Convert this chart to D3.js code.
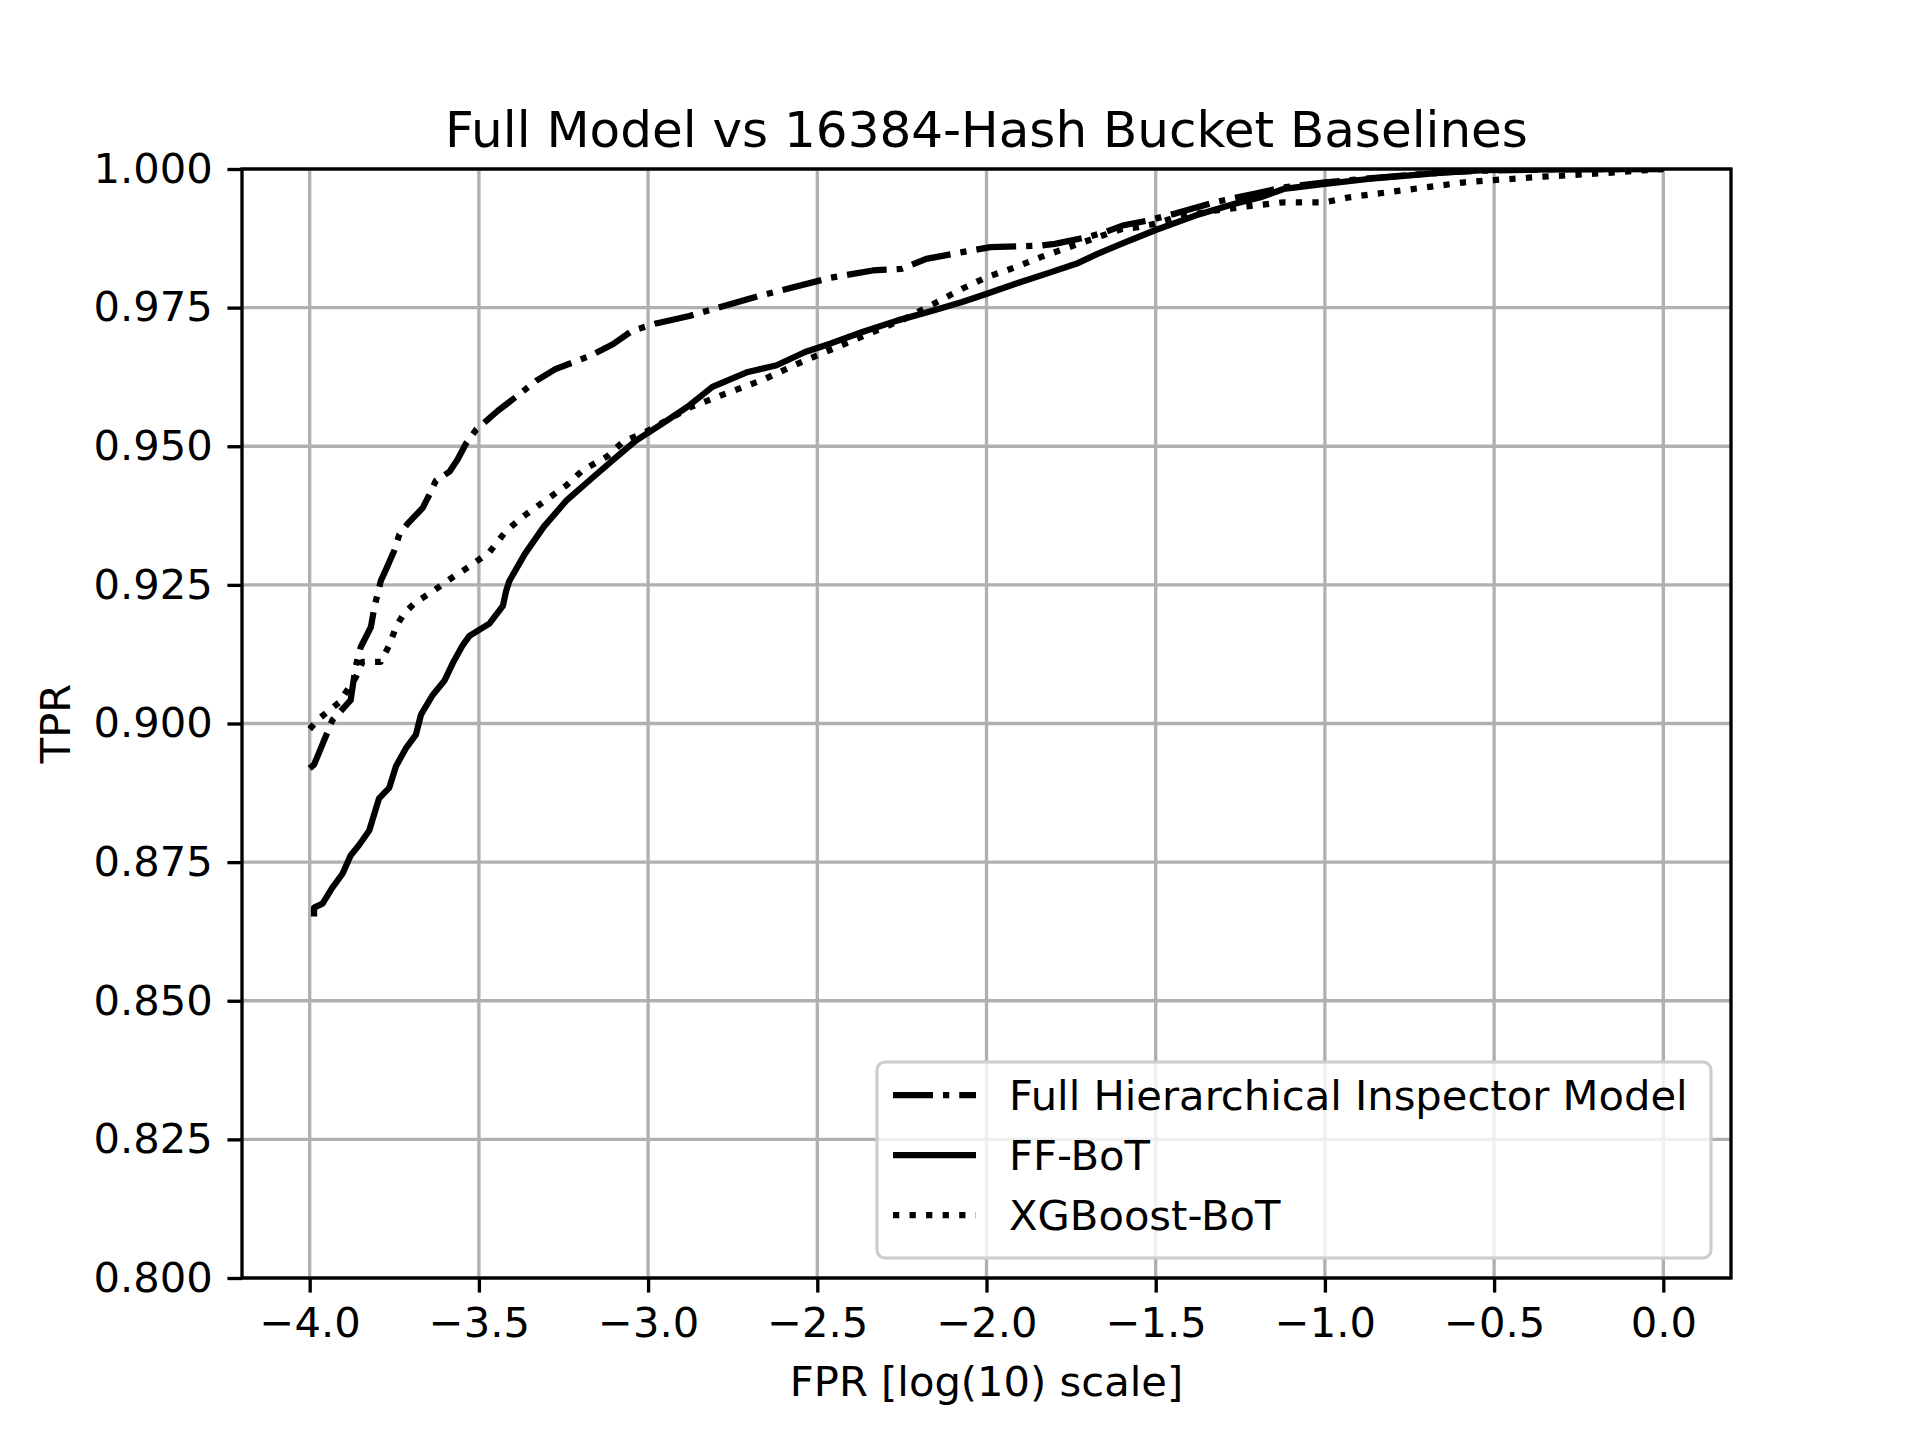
<!DOCTYPE html>
<html>
<head>
<meta charset="utf-8">
<script src="https://cdn.jsdelivr.net/npm/d3@7"></script>
<style>
  body { margin: 0; background: #fff; }
  svg text { font-family: "DejaVu Sans", sans-serif; fill: #000; }
</style>
</head>
<body>
<svg id="chart" width="1921" height="1437"></svg>
<script>
// ROC curves, x = log10(FPR), y = TPR
const fullModel = [
  [-4.000, 0.8919], [-3.987, 0.8926], [-3.972, 0.8948], [-3.933, 0.9006], [-3.879, 0.9042],
  [-3.864, 0.9103], [-3.849, 0.9138], [-3.819, 0.9174], [-3.810, 0.9206], [-3.800, 0.9232],
  [-3.790, 0.9257], [-3.775, 0.9277], [-3.750, 0.9312], [-3.735, 0.9341], [-3.711, 0.9360],
  [-3.666, 0.9389], [-3.647, 0.9412], [-3.627, 0.9438], [-3.587, 0.9454], [-3.563, 0.9476],
  [-3.538, 0.9505], [-3.508, 0.9530], [-3.444, 0.9564], [-3.399, 0.9585], [-3.331, 0.9618],
  [-3.274, 0.9639], [-3.172, 0.9663], [-3.104, 0.9684], [-3.048, 0.9708], [-2.980, 0.9721],
  [-2.878, 0.9735], [-2.776, 0.9753], [-2.673, 0.9771], [-2.594, 0.9783], [-2.460, 0.9804],
  [-2.336, 0.9817], [-2.251, 0.9820], [-2.178, 0.9838], [-2.072, 0.9850], [-1.988, 0.9859],
  [-1.883, 0.9861], [-1.840, 0.9862], [-1.798, 0.9865], [-1.703, 0.9877], [-1.651, 0.9886],
  [-1.598, 0.9898], [-1.524, 0.9907], [-1.440, 0.9920], [-1.326, 0.9940], [-1.212, 0.9955],
  [-1.122, 0.9967], [-1.000, 0.9976], [-0.815, 0.9986], [-0.644, 0.9994], [-0.530, 0.9997],
  [-0.300, 1.0000], [0.000, 1.0000]
];

const ffBot = [
  [-3.987, 0.8652], [-3.987, 0.8668], [-3.962, 0.8675], [-3.933, 0.8704], [-3.903, 0.8729],
  [-3.879, 0.8762], [-3.854, 0.8781], [-3.824, 0.8807], [-3.795, 0.8865], [-3.765, 0.8884],
  [-3.745, 0.8923], [-3.716, 0.8955], [-3.686, 0.8980], [-3.671, 0.9016], [-3.637, 0.9051],
  [-3.602, 0.9077], [-3.577, 0.9109], [-3.548, 0.9141], [-3.528, 0.9158], [-3.469, 0.9180],
  [-3.429, 0.9212], [-3.420, 0.9238], [-3.410, 0.9257], [-3.365, 0.9305], [-3.308, 0.9355],
  [-3.240, 0.9403], [-3.161, 0.9445], [-3.093, 0.9481], [-3.036, 0.9510], [-2.958, 0.9541],
  [-2.884, 0.9571], [-2.810, 0.9607], [-2.705, 0.9634], [-2.620, 0.9646], [-2.536, 0.9670],
  [-2.462, 0.9685], [-2.367, 0.9706], [-2.262, 0.9727], [-2.157, 0.9745], [-2.072, 0.9760],
  [-1.999, 0.9775], [-1.914, 0.9793], [-1.809, 0.9814], [-1.735, 0.9829], [-1.672, 0.9847],
  [-1.598, 0.9866], [-1.500, 0.9890], [-1.383, 0.9916], [-1.269, 0.9937], [-1.190, 0.9949],
  [-1.122, 0.9964], [-1.000, 0.9973], [-0.872, 0.9982], [-0.758, 0.9988], [-0.644, 0.9994],
  [-0.531, 0.9998], [-0.417, 0.9999], [0.000, 1.0000]
];

const xgbBot = [
  [-4.000, 0.8990], [-3.972, 0.9009], [-3.913, 0.9038], [-3.864, 0.9083], [-3.844, 0.9111],
  [-3.790, 0.9111], [-3.765, 0.9141], [-3.745, 0.9174], [-3.721, 0.9199], [-3.686, 0.9219],
  [-3.637, 0.9238], [-3.577, 0.9264], [-3.528, 0.9283], [-3.469, 0.9309], [-3.420, 0.9347],
  [-3.370, 0.9373], [-3.320, 0.9395], [-3.240, 0.9430], [-3.193, 0.9457], [-3.120, 0.9482],
  [-3.074, 0.9508], [-3.000, 0.9528], [-2.926, 0.9553], [-2.877, 0.9570], [-2.770, 0.9595],
  [-2.660, 0.9620], [-2.557, 0.9649], [-2.441, 0.9679], [-2.336, 0.9706], [-2.241, 0.9730],
  [-2.146, 0.9760], [-2.072, 0.9784], [-1.999, 0.9805], [-1.914, 0.9823], [-1.840, 0.9841],
  [-1.756, 0.9859], [-1.672, 0.9877], [-1.598, 0.9892], [-1.553, 0.9895], [-1.503, 0.9901],
  [-1.440, 0.9913], [-1.326, 0.9925], [-1.212, 0.9934], [-1.122, 0.9940], [-1.000, 0.9940],
  [-0.928, 0.9949], [-0.815, 0.9958], [-0.701, 0.9967], [-0.587, 0.9976], [-0.500, 0.9980],
  [-0.360, 0.9986], [-0.190, 0.9992], [0.000, 1.0000]
];

const seriesNames = ['Full Hierarchical Inspector Model', 'FF-BoT', 'XGBoost-BoT'];
const seriesData = [fullModel, ffBot, xgbBot];
const xTicks = [-4.0, -3.5, -3.0, -2.5, -2.0, -1.5, -1.0, -0.5, 0.0];
const yTicks = [0.800, 0.825, 0.850, 0.875, 0.900, 0.925, 0.950, 0.975, 1.000];

// matplotlib look at 300 dpi: 1pt = 300/72 px
const pt = 300 / 72;
const fontSize = 10 * pt;
const dashes = ['40,10,6.25,10', null, '6.25,10.3'];

const margin = {left: 242, right: 190, top: 169, bottom: 159};
const width = 1921, height = 1437;

const svg = d3.select('#chart');

const x = d3.scaleLinear().domain([-4.2, 0.2]).range([margin.left, width - margin.right]);
const y = d3.scaleLinear().domain([0.8, 1.0]).range([height - margin.bottom, margin.top]);

svg.append('defs').
  append('clipPath').attr('id', 'plot-clip').
    append('rect').
      attr('x', margin.left).attr('y', margin.top).
      attr('width', x.range()[1] - margin.left).
      attr('height', y.range()[0] - margin.top);

// Grid
const grid = svg.append('g').attr('class', 'grid').
  attr('stroke', '#b0b0b0').attr('stroke-width', 0.8 * pt);
grid.selectAll('.gx').data(xTicks).enter().
  append('line').
    attr('x1', (d) => x(d)).attr('x2', (d) => x(d)).
    attr('y1', y.range()[0]).attr('y2', y.range()[1]);
grid.selectAll('.gy').data(yTicks).enter().
  append('line').
    attr('y1', (d) => y(d)).attr('y2', (d) => y(d)).
    attr('x1', x.range()[0]).attr('x2', x.range()[1]);

// Curves
const line = d3.line().x((d) => x(d[0])).y((d) => y(d[1]));
svg.append('g').attr('clip-path', 'url(#plot-clip)').
  selectAll('path').data(seriesData).enter().
  append('path').
    attr('d', line).
    attr('fill', 'none').
    attr('stroke', '#000').
    attr('stroke-width', 1.5 * pt).
    attr('stroke-linejoin', 'round').
    attr('stroke-dasharray', (d, i) => dashes[i]);

// Axes
const minus = (v) => v.toFixed(1).replace('-', '\u2212');
const xAxis = d3.axisBottom(x).tickValues(xTicks).tickFormat(minus).
  tickSize(3.5 * pt).tickPadding(3.5 * pt);
const yAxis = d3.axisLeft(y).tickValues(yTicks).tickFormat(d3.format('.3f')).
  tickSize(3.5 * pt).tickPadding(3.5 * pt);

svg.append('g').
  attr('transform', `translate(0,${y.range()[0]})`).
  call(xAxis).
  call((g) => g.select('.domain').remove());
svg.append('g').
  attr('transform', `translate(${x.range()[0]},0)`).
  call(yAxis).
  call((g) => g.select('.domain').remove());

svg.selectAll('.tick line').attr('stroke', '#000').attr('stroke-width', 0.8 * pt);
svg.selectAll('.tick text').
  attr('font-size', fontSize).
  attr('font-family', '"DejaVu Sans", sans-serif').
  attr('fill', '#000');

// Frame
svg.append('rect').
  attr('x', x.range()[0]).attr('y', y.range()[1]).
  attr('width', x.range()[1] - x.range()[0]).
  attr('height', y.range()[0] - y.range()[1]).
  attr('fill', 'none').attr('stroke', '#000').attr('stroke-width', 0.8 * pt);

// Titles
svg.append('text').
  attr('x', (x.range()[0] + x.range()[1]) / 2).attr('y', 147).
  attr('text-anchor', 'middle').attr('font-size', 12 * pt).
  text('Full Model vs 16384-Hash Bucket Baselines');
svg.append('text').
  attr('x', (x.range()[0] + x.range()[1]) / 2).attr('y', 1396).
  attr('text-anchor', 'middle').attr('font-size', fontSize).
  text('FPR [log(10) scale]');
svg.append('text').
  attr('transform', `translate(70,${(y.range()[0] + y.range()[1]) / 2}) rotate(-90)`).
  attr('text-anchor', 'middle').attr('font-size', fontSize).
  text('TPR');

// Legend, lower right
const legend = svg.append('g').attr('class', 'legend');
legend.append('rect').
  attr('x', 877).attr('y', 1062).attr('width', 834).attr('height', 196).
  attr('rx', 8).attr('ry', 8).
  attr('fill', '#fff').attr('fill-opacity', 0.8).
  attr('stroke', '#cccccc').attr('stroke-width', 1 * pt * 0.75);

const rows = legend.selectAll('.row').data(seriesNames).enter().
  append('g').
    attr('class', 'row').
    attr('transform', (d, i) => `translate(0,${1095 + i * 60})`);
rows.append('line').
  attr('x1', 893).attr('x2', 976).
  attr('stroke', '#000').attr('stroke-width', 1.5 * pt).
  attr('stroke-dasharray', (d, i) => dashes[i]);
rows.append('text').
  attr('x', 1009).attr('dy', '0.36em').
  attr('font-size', fontSize).
  text((d) => d);
</script>
</body>
</html>
